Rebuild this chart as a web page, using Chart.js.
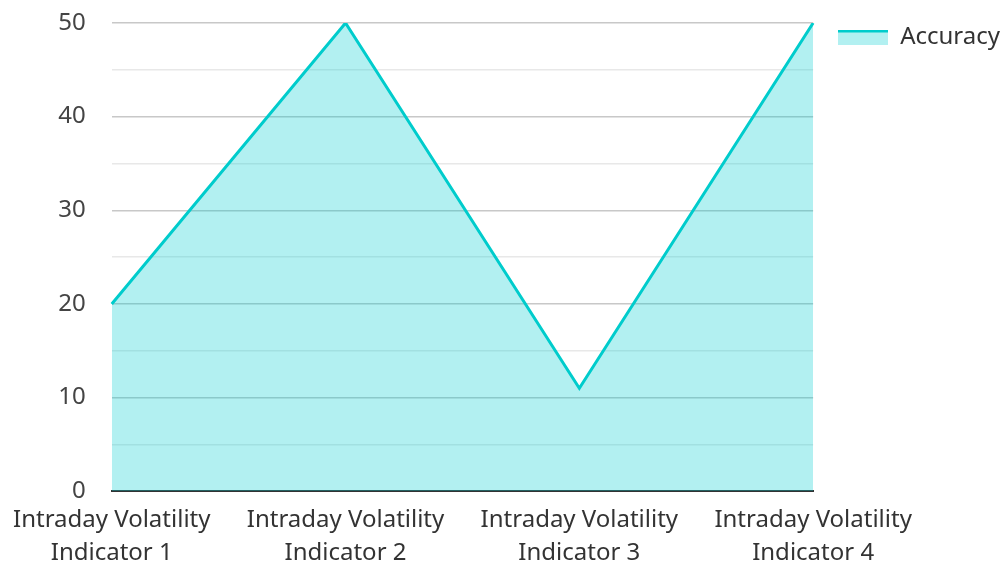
<!DOCTYPE html>
<html>
<head>
<meta charset="utf-8">
<script src="https://cdn.jsdelivr.net/npm/chart.js@4.4.1/dist/chart.umd.min.js"></script>
<style>
  html, body { margin: 0; padding: 0; background: #fff; }
  #wrap { width: 1003px; height: 562px; }
</style>
</head>
<body>
<div id="wrap"><canvas id="chart"></canvas></div>
<script>
const categories = [
    ["Intraday Volatility", "Indicator 1"],
    ["Intraday Volatility", "Indicator 2"],
    ["Intraday Volatility", "Indicator 3"],
    ["Intraday Volatility", "Indicator 4"]
];
const accuracy = [20, 50, 11, 50];
const seriesName = "Accuracy";

const lineColor = "#00cccc";
const fillColor = "rgba(0, 206, 209, 0.3)";

// legend swatch: light fill with a thick line on top
function makeSwatch() {
    const c = document.createElement("canvas");
    c.width = 50;
    c.height = 15;
    const g = c.getContext("2d");
    g.fillStyle = fillColor;
    g.fillRect(0, 0, 50, 15);
    g.fillStyle = lineColor;
    g.fillRect(0, 0, 50, 3);
    return c;
}
const swatch = makeSwatch();

Chart.defaults.font.family = "'Noto Sans', 'Open Sans', sans-serif";

new Chart(document.getElementById("chart"), {
    type: "line",
    data: {
        labels: categories,
        datasets: [{
            label: seriesName,
            data: accuracy,
            borderColor: lineColor,
            backgroundColor: fillColor,
            borderWidth: 3,
            fill: "origin",
            tension: 0,
            pointRadius: 0,
            pointHoverRadius: 0
        }]
    },
    options: {
        responsive: true,
        maintainAspectRatio: false,
        animation: false,
        layout: { padding: { top: 0, left: 1, right: -7, bottom: 0 } },
        plugins: {
            tooltip: { enabled: false },
            legend: {
                position: "right",
                align: "start",
                labels: {
                    usePointStyle: true,
                    pointStyleWidth: 50,
                    padding: 25,
                    color: "#333",
                    font: { size: 24 },
                    generateLabels: chart => [{
                        text: seriesName,
                        pointStyle: swatch,
                        fillStyle: fillColor,
                        strokeStyle: lineColor,
                        fontColor: "#333",
                        lineWidth: 0,
                        datasetIndex: 0,
                        hidden: false
                    }]
                }
            }
        },
        scales: {
            x: {
                offset: false,
                grid: { display: false, drawTicks: false },
                border: { display: true, color: "#333", width: 2 },
                ticks: { color: "#333", font: { size: 24, lineHeight: 1.35 }, padding: 13, maxRotation: 0 },
                afterFit: scale => { scale.height -= 20; }
            },
            y: {
                min: 0,
                max: 50,
                border: { display: false },
                grid: {
                    drawTicks: false,
                    color: ctx => (ctx.tick && ctx.tick.value % 10 === 0) ? "#c8c8c8" : "#e8e8e8",
                    lineWidth: 1.5
                },
                ticks: {
                    stepSize: 5,
                    color: "#444",
                    font: { size: 24 },
                    padding: 26,
                    callback: v => (v % 10 === 0 ? v : "")
                },
                afterFit: scale => { scale.paddingTop = 23; scale.paddingBottom = 14; }
            }
        }
    }
});
</script>
</body>
</html>
